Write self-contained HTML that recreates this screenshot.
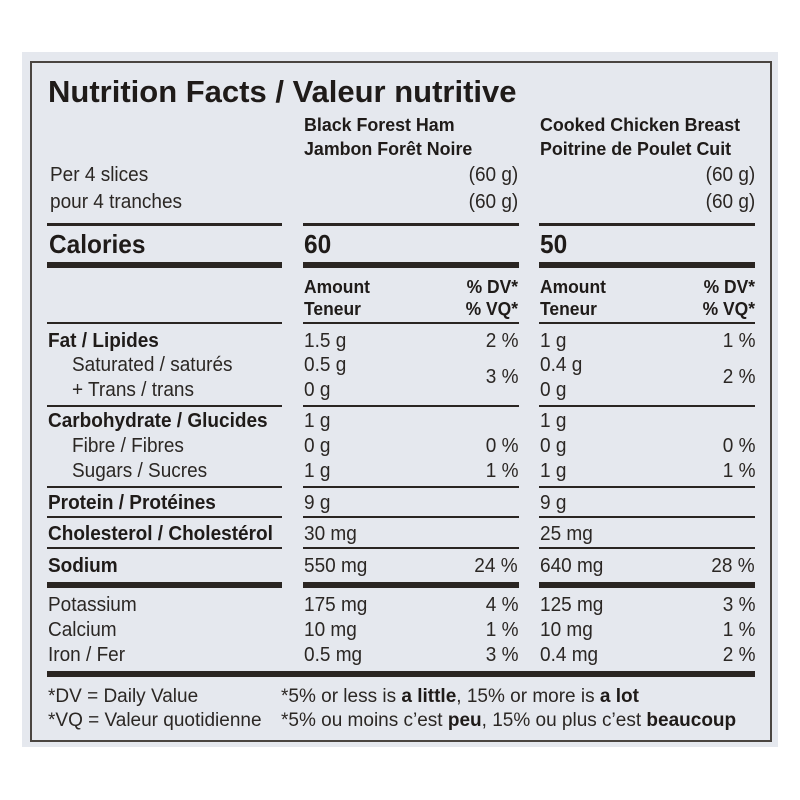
<!DOCTYPE html>
<html><head><meta charset="utf-8"><style>
html,body{margin:0;padding:0;background:#fff;}
#c{position:relative;width:800px;height:800px;overflow:hidden;background:#fff;font-family:"Liberation Sans",sans-serif;color:#2b2724;}
#bg{position:absolute;left:22px;top:52px;width:756px;height:695px;background:#e5e8ee;}
#bd{position:absolute;left:30px;top:61px;width:738px;height:677px;border:2px solid #4a4540;}
.t{position:absolute;white-space:nowrap;line-height:1;font-size:20px;transform:scaleX(0.95);transform-origin:left top;}
.r{transform-origin:right top;}
.b{font-weight:bold;color:#1f1b19;}
.ln{position:absolute;background:#2a2522;}
.h{font-size:18px;transform:scaleX(0.99);}
.a{font-size:18px;transform:scaleX(0.97);}
.f{font-size:19px;transform:scaleX(1.0);}
</style></head><body><div id="c">
<div id="bg"></div><div id="bd"></div>

<div class="t b" style="left:48px;top:76px;font-size:31px;transform:scaleX(1.0)">Nutrition Facts / Valeur nutritive</div>
<div class="t b h" style="left:304px;top:116px">Black Forest Ham</div>
<div class="t b h" style="left:304px;top:140px">Jambon Forêt Noire</div>
<div class="t b h" style="left:540px;top:116px">Cooked Chicken Breast</div>
<div class="t b h" style="left:540px;top:140px">Poitrine de Poulet Cuit</div>

<div class="t" style="left:50px;top:165px">Per 4 slices</div>
<div class="t" style="left:50px;top:192px">pour 4 tranches</div>
<div class="t r" style="right:282px;top:165px">(60 g)</div>
<div class="t r" style="right:282px;top:192px">(60 g)</div>
<div class="t r" style="right:45px;top:165px">(60 g)</div>
<div class="t r" style="right:45px;top:192px">(60 g)</div>

<div class="ln" style="left:47px;top:223px;width:235px;height:3px"></div>
<div class="ln" style="left:303px;top:223px;width:216px;height:3px"></div>
<div class="ln" style="left:539px;top:223px;width:216px;height:3px"></div>

<div class="t b" style="left:49px;top:231px;font-size:26px;transform:scaleX(0.94)">Calories</div>
<div class="t b" style="left:304px;top:231px;font-size:26px;transform:scaleX(0.94)">60</div>
<div class="t b" style="left:540px;top:231px;font-size:26px;transform:scaleX(0.94)">50</div>

<div class="ln" style="left:47px;top:262px;width:235px;height:6px"></div>
<div class="ln" style="left:303px;top:262px;width:216px;height:6px"></div>
<div class="ln" style="left:539px;top:262px;width:216px;height:6px"></div>

<div class="t b a" style="left:304px;top:278px">Amount</div>
<div class="t b a" style="left:304px;top:300px">Teneur</div>
<div class="t b r a" style="right:282px;top:278px">% DV*</div>
<div class="t b r a" style="right:282px;top:300px">% VQ*</div>
<div class="t b a" style="left:540px;top:278px">Amount</div>
<div class="t b a" style="left:540px;top:300px">Teneur</div>
<div class="t b r a" style="right:45px;top:278px">% DV*</div>
<div class="t b r a" style="right:45px;top:300px">% VQ*</div>

<div class="ln" style="left:47px;top:322px;width:235px;height:2px"></div>
<div class="ln" style="left:303px;top:322px;width:216px;height:2px"></div>
<div class="ln" style="left:539px;top:322px;width:216px;height:2px"></div>

<div class="t b" style="left:48px;top:331px">Fat / Lipides</div>
<div class="t" style="left:72px;top:355px">Saturated / saturés</div>
<div class="t" style="left:72px;top:380px">+ Trans / trans</div>
<div class="t" style="left:304px;top:331px">1.5 g</div>
<div class="t" style="left:304px;top:355px">0.5 g</div>
<div class="t" style="left:304px;top:380px">0 g</div>
<div class="t r" style="right:282px;top:331px">2 %</div>
<div class="t r" style="right:282px;top:367px">3 %</div>
<div class="t" style="left:540px;top:331px">1 g</div>
<div class="t" style="left:540px;top:355px">0.4 g</div>
<div class="t" style="left:540px;top:380px">0 g</div>
<div class="t r" style="right:45px;top:331px">1 %</div>
<div class="t r" style="right:45px;top:367px">2 %</div>

<div class="ln" style="left:47px;top:405px;width:235px;height:2px"></div>
<div class="ln" style="left:303px;top:405px;width:216px;height:2px"></div>
<div class="ln" style="left:539px;top:405px;width:216px;height:2px"></div>

<div class="t b" style="left:48px;top:411px">Carbohydrate / Glucides</div>
<div class="t" style="left:72px;top:436px">Fibre / Fibres</div>
<div class="t" style="left:72px;top:461px">Sugars / Sucres</div>
<div class="t" style="left:304px;top:411px">1 g</div>
<div class="t" style="left:304px;top:436px">0 g</div>
<div class="t" style="left:304px;top:461px">1 g</div>
<div class="t r" style="right:282px;top:436px">0 %</div>
<div class="t r" style="right:282px;top:461px">1 %</div>
<div class="t" style="left:540px;top:411px">1 g</div>
<div class="t" style="left:540px;top:436px">0 g</div>
<div class="t" style="left:540px;top:461px">1 g</div>
<div class="t r" style="right:45px;top:436px">0 %</div>
<div class="t r" style="right:45px;top:461px">1 %</div>

<div class="ln" style="left:47px;top:486px;width:235px;height:2px"></div>
<div class="ln" style="left:303px;top:486px;width:216px;height:2px"></div>
<div class="ln" style="left:539px;top:486px;width:216px;height:2px"></div>

<div class="t b" style="left:48px;top:493px">Protein / Protéines</div>
<div class="t" style="left:304px;top:493px">9 g</div>
<div class="t" style="left:540px;top:493px">9 g</div>

<div class="ln" style="left:47px;top:516px;width:235px;height:2px"></div>
<div class="ln" style="left:303px;top:516px;width:216px;height:2px"></div>
<div class="ln" style="left:539px;top:516px;width:216px;height:2px"></div>

<div class="t b" style="left:48px;top:524px">Cholesterol / Cholestérol</div>
<div class="t" style="left:304px;top:524px">30 mg</div>
<div class="t" style="left:540px;top:524px">25 mg</div>

<div class="ln" style="left:47px;top:547px;width:235px;height:2px"></div>
<div class="ln" style="left:303px;top:547px;width:216px;height:2px"></div>
<div class="ln" style="left:539px;top:547px;width:216px;height:2px"></div>

<div class="t b" style="left:48px;top:556px">Sodium</div>
<div class="t" style="left:304px;top:556px">550 mg</div>
<div class="t r" style="right:282px;top:556px">24 %</div>
<div class="t" style="left:540px;top:556px">640 mg</div>
<div class="t r" style="right:45px;top:556px">28 %</div>

<div class="ln" style="left:47px;top:582px;width:235px;height:6px"></div>
<div class="ln" style="left:303px;top:582px;width:216px;height:6px"></div>
<div class="ln" style="left:539px;top:582px;width:216px;height:6px"></div>

<div class="t" style="left:48px;top:595px">Potassium</div>
<div class="t" style="left:48px;top:620px">Calcium</div>
<div class="t" style="left:48px;top:645px">Iron / Fer</div>
<div class="t" style="left:304px;top:595px">175 mg</div>
<div class="t" style="left:304px;top:620px">10 mg</div>
<div class="t" style="left:304px;top:645px">0.5 mg</div>
<div class="t r" style="right:282px;top:595px">4 %</div>
<div class="t r" style="right:282px;top:620px">1 %</div>
<div class="t r" style="right:282px;top:645px">3 %</div>
<div class="t" style="left:540px;top:595px">125 mg</div>
<div class="t" style="left:540px;top:620px">10 mg</div>
<div class="t" style="left:540px;top:645px">0.4 mg</div>
<div class="t r" style="right:45px;top:595px">3 %</div>
<div class="t r" style="right:45px;top:620px">1 %</div>
<div class="t r" style="right:45px;top:645px">2 %</div>

<div class="ln" style="left:47px;top:671px;width:708px;height:6px"></div>

<div class="t f" style="left:48px;top:687px">*DV = Daily Value</div>
<div class="t f" style="left:48px;top:711px">*VQ = Valeur quotidienne</div>
<div class="t f" style="left:281px;top:687px">*5% or less is <b class="b">a little</b>, 15% or more is <b class="b">a lot</b></div>
<div class="t f" style="left:281px;top:711px">*5% ou moins c’est <b class="b">peu</b>, 15% ou plus c’est <b class="b">beaucoup</b></div>
</div></body></html>
